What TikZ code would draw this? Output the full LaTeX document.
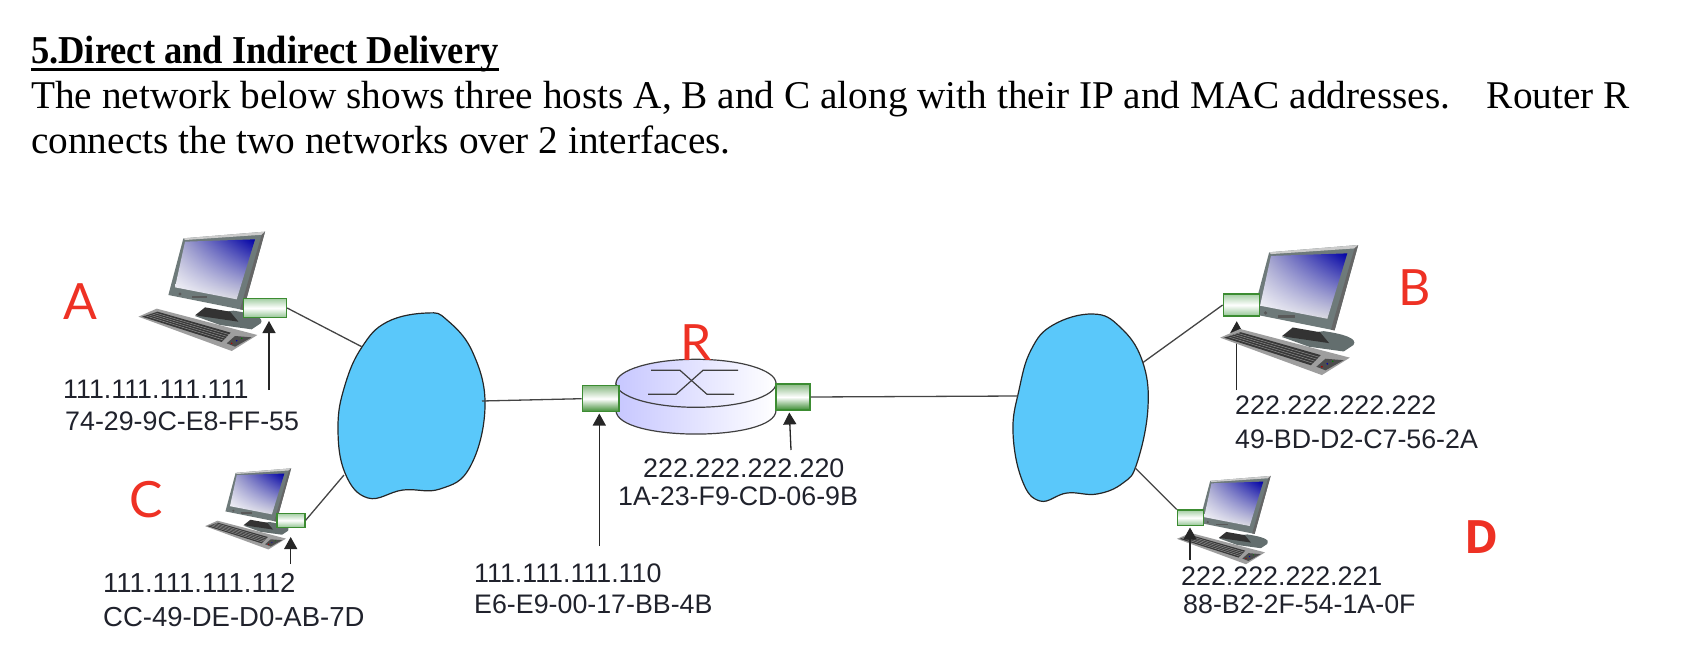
\documentclass[tikz,border=0pt]{standalone}
\usepackage{fontspec}
\usepackage{graphicx}
\setmainfont{Liberation Serif}
\newfontfamily\labfont{Liberation Sans}
\newfontfamily\letfont{Lato}
\newfontfamily\dfont{Open Sans}
\usetikzlibrary{arrows.meta,calc,shadings}
\definecolor{netblue}{HTML}{5AC8FA}
\definecolor{cardgreen}{HTML}{3C8C32}
\definecolor{redlet}{HTML}{EE3124}
\definecolor{labink}{HTML}{20222C}
\definecolor{pcgrey}{HTML}{6E7A7A}
\definecolor{wire}{HTML}{444444}
\tikzset{
  heading/.style={anchor=base west,inner sep=0pt,font=\fontsize{39.3}{40}\selectfont},
  addr/.style={anchor=base west,inner sep=0pt,text=labink,font=\labfont\fontsize{26.8}{27}\selectfont},
  addrwide/.style={addr,font=\labfont\fontsize{27.5}{28}\selectfont},
  letter/.style={anchor=base,inner sep=0pt,text=redlet,font=\letfont\fontsize{50}{50}\selectfont},
  cardbox/.style={draw=cardgreen,line width=1.3pt,inner sep=0pt,top color=green!30!gray!55,bottom color=green!30!gray!65,middle color=white},
  rcard/.style={draw=cardgreen,line width=1.3pt,inner sep=0pt,top color=cardgreen!60,bottom color=cardgreen,middle color=white},
  netcloud/.style={draw=black!85,line width=1.2pt,fill=netblue},
  link/.style={draw=wire,line width=1.3pt},
  pointer/.style={draw=black!85,line width=1.3pt,-{Triangle[length=12pt,width=13pt]}},
}
\newcommand{\pccomputer}[3]{%
  \begin{scope}[shift={(#1,#2)},scale=#3/3]
    % base plate
    \fill[pcgrey!90!black] (175,258) -- (290,242) .. controls (345,250) and (385,262) .. (372,280) -- (345,298) -- (250,285) -- cycle;
    % stand
    \fill[black!80] (205,232) -- (280,245) -- (305,275) -- (175,256) -- cycle;
    % keyboard
    \fill[black!38] (5,260) -- (60,236) -- (362,315) -- (285,363) -- cycle;
    \fill[black!78] (16,260) -- (62,245) -- (282,308) -- (255,336) -- cycle;
    \foreach \t in {0.2,0.4,0.6,0.8}
      \draw[black!45,line width=.5pt] ($(16,260)!\t!(62,245)$) -- ($(255,336)!\t!(282,308)$);
    \fill[black!70] (270,340) -- (295,318) -- (345,322) -- (295,350) -- cycle;
    \fill[red!70!black] (285,340) circle (2.5);
    \fill[blue!70!black] (300,332) circle (2.5);
    \fill[green!50!black] (315,325) circle (2.5);
    % monitor
    \fill[pcgrey] (140,25) -- (385,5) -- (320,240) -- (95,195) -- cycle;
    \fill[black!20] (140,25) -- (385,5) -- (380,14) -- (145,30) -- cycle;
    \fill[black!60] (375,14) -- (385,5) -- (320,240) -- (310,238) -- cycle;
    \shade[lower left=white,upper right=blue!65!black,upper left=blue!25!gray!50,lower right=blue!10!gray!35]
      (145,35) -- (355,28) -- (300,208) -- (115,172) -- cycle;
    \fill[black!65] (130,192) circle (5);
    \fill[black!65] (165,198) rectangle (210,205);
  \end{scope}}
\begin{document}
\begin{tikzpicture}[x=1pt,y=-1pt]
\useasboundingbox (0,0) rectangle (1698,648);
% heading
\node[heading,font=\bfseries\fontsize{39.5}{40}\selectfont] (title) at (31,63) {\scalebox{0.925}[1]{5.Direct and Indirect Delivery}};
\draw[line width=3pt] ([yshift=-6pt]title.base west) -- ([yshift=-6pt]title.base east);
\node[heading] (line2) at (31,108) {The network below shows three hosts A, B and C along with their IP and MAC addresses.\hspace{0.6em} Router R};
\node[heading] (line3) at (31,153) {connects the two networks over 2 interfaces.};
% pointers hidden behind computers
\coordinate (pB) at (1236.7,390);
\node[inner sep=0pt,minimum size=0pt] (tipB) at (1236.7,321) {};
\draw[pointer] (pB) -- (tipB);
% computers
\pccomputer{136.7}{230}{1}
\pccomputer{203.9}{467.2}{0.68}
\pccomputer{1218.3}{243.2}{1.09}
\pccomputer{1175.7}{474.7}{0.74}
% clouds
\draw[netcloud] plot[smooth cycle,tension=.7] coordinates {(427,313) (387,322) (362,347) (345,385) (338,427) (345,473) (368,498) (403,490) (440,489) (470,467) (485,407) (473,353) (447,320)};
\draw[netcloud] plot[smooth cycle,tension=.7] coordinates {(1093,314) (1053,325) (1031,350) (1019,390) (1013,432) (1022,480) (1040,501) (1067,493) (1097,494) (1123,483) (1137,463) (1148,407) (1142,360) (1120,327)};
\coordinate (netLa) at (361.7,346.7);
\coordinate (netLc) at (344,475);
\coordinate (netLr) at (482,401);
\coordinate (netRr) at (1018,396);
\coordinate (netRb) at (1142.7,362.7);
\coordinate (netRd) at (1135,467.7);
% cards
\node[cardbox,minimum width=43pt,minimum height=19pt] (cardA) at (265,308) {};
\node[cardbox,minimum width=28pt,minimum height=14pt] (cardC) at (291,520.3) {};
\node[cardbox,minimum width=36pt,minimum height=22pt] (cardB) at (1241.3,305) {};
\node[cardbox,minimum width=26pt,minimum height=15.5pt] (cardD) at (1190.3,517.8) {};
% router
\path[draw=black!75,line width=1.2pt,left color=blue!22,right color=white] (616,383.3) -- (616,410.3) .. controls (616,442) and (776,442) .. (776,410.3) -- (776,383.3) -- cycle;
\draw[line width=1.2pt,draw=black!75,left color=blue!22,right color=white] (696,383.3) ellipse[x radius=80,y radius=24];
\node[minimum size=0pt,inner sep=0pt] (router) at (696,383.3) {};
\draw[line width=1.2pt,draw=black!75] (651,370.3) -- (680,370.3) -- (707,394.3) -- (734,394.3);
\draw[line width=1.2pt,draw=black!75] (648,394.3) -- (676,394.3) -- (703,370.3) -- (738,370.3);
\node[rcard,minimum width=36.7pt,minimum height=26pt] (cardRl) at (600.6,398.7) {};
\node[rcard,minimum width=34pt,minimum height=26pt] (cardRr) at (793,397) {};
% links
\draw[link] (cardA.east) -- (netLa);
\draw[link] (cardC.east) -- (netLc);
\draw[link] (netLr) -- (cardRl.west);
\draw[link] (cardRr.east) -- (netRr);
\draw[link] (netRb) -- (cardB.west);
\draw[link] (netRd) -- (cardD.north west);
% pointers
\coordinate (pA) at (269,390);
\coordinate (pC) at (290.7,564);
\coordinate (pRl) at (599.3,546);
\coordinate (pRr) at (791,450);
\coordinate (pD) at (1190,560);
\draw[pointer] (pA) -- (269,321);
\draw[pointer] (pC) -- (290.7,537);
\draw[pointer] (pRl) -- (599.3,413.5);
\draw[pointer] (pRr) -- (789.3,412.5);
\draw[pointer] (pD) -- (1190,527.5);
% letters
\node[letter] (labA) at (80,319) {A};
\node[letter] (labC) at (146,517) {C};
\node[letter] (labB) at (1415,305) {B};
\node[letter] (labR) at (696,360) {R};
\node[letter,font=\dfont\bfseries\fontsize{46}{46}\selectfont] (labD) at (1482,553) {D};
% addresses
\node[addr] (ipA) at (63,398) {111.111.111.111};
\node[addr] (macA) at (65,430) {74-29-9C-E8-FF-55};
\node[addrwide] (ipC) at (103,592) {111.111.111.112};
\node[addrwide] (macC) at (103,626) {CC-49-DE-D0-AB-7D};
\node[addr] (ipRl) at (474,582) {111.111.111.110};
\node[addr] (macRl) at (474,613) {E6-E9-00-17-BB-4B};
\node[addr] (ipRr) at (643,477) {222.222.222.220};
\node[addr] (macRr) at (618,505) {1A-23-F9-CD-06-9B};
\node[addr] (ipB) at (1235,414) {222.222.222.222};
\node[addr] (macB) at (1235,448) {49-BD-D2-C7-56-2A};
\node[addr] (ipD) at (1181,585) {222.222.222.221};
\node[addr] (macD) at (1183,613) {88-B2-2F-54-1A-0F};
\end{tikzpicture}
\end{document}
